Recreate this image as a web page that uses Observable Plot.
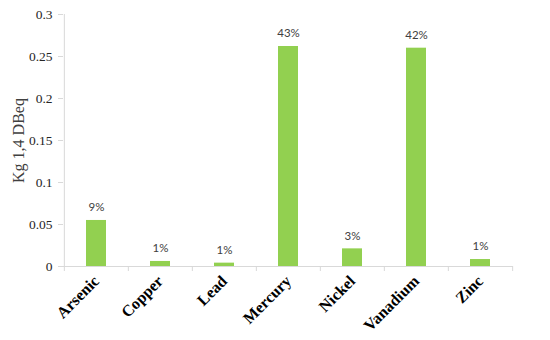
<!DOCTYPE html>
<html><head><meta charset="utf-8">
<script src="https://cdn.jsdelivr.net/npm/d3@7"></script>
<script src="https://cdn.jsdelivr.net/npm/@observablehq/plot@0.6"></script>
<style>body{margin:0;background:#fff;} #chart svg{display:block;}</style>
</head><body><div id="chart"></div>
<script>
const categories = ["Arsenic","Copper","Lead","Mercury","Nickel","Vanadium","Zinc"];
const values = [0.0548, 0.0060, 0.0040, 0.2619, 0.0210, 0.2599, 0.0083];
const shares = ["9%","1%","1%","43%","3%","42%","1%"];
const yTicks = [0, 0.05, 0.1, 0.15, 0.2, 0.25, 0.3];
const yTickLabels = ["0","0.05","0.1","0.15","0.2","0.25","0.3"];

const data = categories.map((c,i)=>({category:c, value:values[i], share:shares[i]}));
const W = 550, ML = 63, MR = 37;
const step = (W - ML - MR) / categories.length;
const axisColor = "#d9d9d9";

const chart = Plot.plot({
  width: W, height: 340,
  marginLeft: ML, marginRight: MR, marginTop: 14, marginBottom: 74,
  style: {background: "#fff"},
  x: {domain: categories, padding: 0},
  y: {domain: [0, 0.3]},
  marks: [
    Plot.ruleX([0], {x: () => categories[0], dx: -step/2, y1: 0, y2: 0.3, stroke: axisColor}),
    Plot.ruleY([0], {stroke: axisColor}),
    Plot.ruleX(categories, {x: d => d, dx: -step/2, y1: 0, y2: 0, insetBottom: -5, stroke: axisColor}),
    Plot.ruleX([categories[categories.length-1]], {x: d => d, dx: step/2, y1: 0, y2: 0, insetBottom: -5, stroke: axisColor}),
    Plot.barY(data, {x: "category", y: "value", fill: "#92d050", insetLeft: 22, insetRight: 22}),
    Plot.text(data, {x: "category", y: "value", text: "share", dy: -13, fill: "#404040", fontSize: 11.5, fontFamily: "Lato, 'Open Sans', sans-serif"}),
    Plot.axisY({ticks: yTicks, tickFormat: (d,i) => yTickLabels[yTicks.indexOf(d)], tickSize: 5, tickPadding: 6, stroke: axisColor, fill: "#262626", fontSize: 13.5, fontFamily: "'Liberation Serif', serif", label: null}),
    Plot.axisX({tickSize: 0, tickRotate: -45, tickPadding: 12, fontSize: 16, fontWeight: "bold", fontFamily: "'Liberation Serif', serif", fill: "#000", label: null}),
    Plot.text(["Kg 1,4 DBeq"], {frameAnchor: "left", textAnchor: "middle", dx: -45, rotate: -90, fontSize: 16, fontFamily: "'Liberation Serif', serif", fill: "#404040"})
  ]
});
document.getElementById("chart").appendChild(chart);
</script>
</body></html>
